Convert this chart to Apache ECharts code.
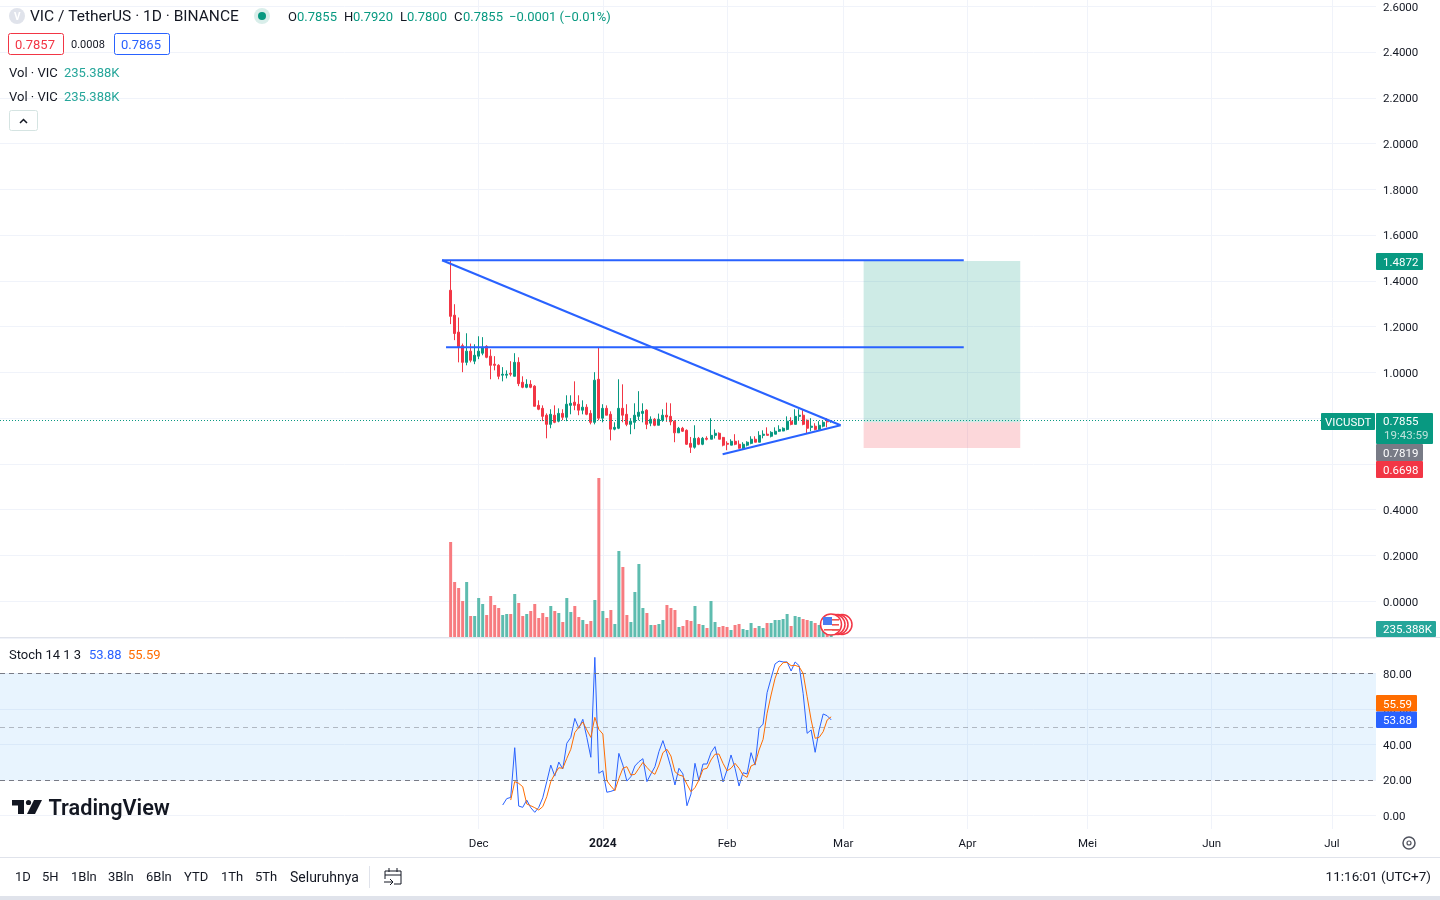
<!DOCTYPE html>
<html>
<head>
<meta charset="UTF-8">
<title>VICUSDT</title>
<script src="https://cdn.jsdelivr.net/npm/echarts@6/dist/echarts.min.js"></script>
<style>
  html, body { margin: 0; padding: 0; background: #fff; overflow: hidden; }
  #chart { width: 1440px; height: 900px; }
</style>
</head>
<body>
<div id="chart"></div>
<script>
// daily candles, 24 Nov 2023 .. 27 Feb 2024
var opens = [1.359,1.250,1.176,1.117,1.044,1.093,1.049,1.071,1.084,1.114,
  1.071,1.036,1.031,.988,.988,.996,.983,1.044,.957,.935,
  .948,.940,.856,.843,.813,.773,.813,.787,.821,.804,
  .856,.870,.861,.835,.848,.821,.782,.970,.800,.843,
  .817,.752,.756,.843,.817,.773,.782,.808,.821,.835,
  .778,.795,.769,.791,.813,.808,.787,.736,.756,.747,
  .690,.673,.712,.686,.712,.708,.725,.734,.716,.690,
  .682,.699,.686,.669,.682,.690,.708,.695,.725,.730,
  .721,.730,.743,.744,.751,.787,.773,.808,.813,.791,
  .760,.765,.751,.765,.787,.7855];
var closes = [1.245,1.170,1.111,1.044,1.093,1.053,1.075,1.093,1.110,1.066,
  1.031,1.031,.983,.992,.992,.992,1.044,.951,.935,.948,
  .935,.852,.839,.808,.773,.817,.782,.821,.804,.861,
  .865,.856,.835,.848,.817,.782,.966,.800,.843,.813,
  .752,.760,.843,.813,.773,.787,.813,.826,.830,.773,
  .795,.769,.795,.813,.805,.784,.736,.756,.743,.686,
  .673,.712,.686,.712,.708,.725,.734,.708,.682,.686,
  .699,.686,.669,.686,.695,.708,.695,.725,.730,.725,
  .738,.743,.751,.756,.787,.773,.808,.813,.773,.756,
  .765,.751,.769,.782,.784,.7855];
var lows = [1.211,1.141,1.044,1.001,1.031,1.044,1.036,1.058,1.075,1.062,
  .970,1.009,.970,.961,.974,.983,.983,.940,.931,.931,
  .931,.852,.835,.787,.712,.756,.778,.782,.791,.787,
  .817,.835,.813,.817,.813,.773,.773,.791,.782,.813,
  .703,.747,.752,.782,.765,.730,.752,.791,.782,.752,
  .765,.765,.769,.784,.784,.769,.695,.736,.740,.683,
  .648,.667,.682,.682,.703,.708,.711,.708,.677,.660,
  .682,.682,.667,.664,.677,.686,.695,.695,.712,.725,
  .716,.730,.740,.743,.747,.769,.773,.791,.769,.733,
  .743,.747,.747,.760,.760,.780];
var highs = [1.4872,1.298,1.240,1.126,1.171,1.126,1.123,1.158,1.154,1.119,
  1.101,1.071,1.036,1.023,1.009,1.049,1.084,1.066,.983,.970,
  .966,.944,.878,.856,.821,.839,.856,.843,.839,.900,
  .900,.961,.900,.878,.861,.835,1.001,1.110,.861,.856,
  .830,.782,.970,.948,.861,.800,.865,.918,.865,.839,
  .808,.801,.820,.839,.868,.865,.791,.762,.762,.751,
  .718,.769,.718,.718,.721,.800,.751,.738,.718,.699,
  .708,.730,.703,.695,.699,.721,.721,.743,.747,.760,
  .743,.760,.769,.760,.808,.804,.839,.839,.835,.794,
  .800,.778,.787,.787,.800,.792];
// volume in thousands
var volumes = [7125,4125,3675,2700,4125,1575,1575,2925,2475,1650,
  3075,2400,2175,1650,1725,1725,3225,2550,1575,1725,
  1950,2475,1425,1800,1500,2325,1950,1800,1125,2925,
  1875,2325,1500,1275,975,1200,2775,11925,1950,1425,
  2025,975,6450,5250,1650,1125,3375,5475,2175,1800,
  900,900,975,1275,2400,2175,2025,750,825,1275,
  1200,2325,975,900,675,2700,1125,750,825,750,
  525,900,975,600,525,1050,675,825,675,1050,
  1050,1275,1275,1350,1725,825,1575,1500,1350,1275,
  1200,1050,900,525,300,235.388];
// stochastic, starts at candle 14 (%K) and candle 16 (%D)
var stochK = [5.9,9.5,10.2,38.2,5.3,4.6,8.7,4.4,1.8,4.6,
  10.0,19.1,28.4,22.2,30.1,26.2,40.7,44.0,54.7,49.1,
  54.2,44.0,32.8,89.1,23.8,25.2,13.1,13.6,14.4,35.0,
  28.4,19.4,21.9,27.9,30.3,32.0,19.1,23.4,27.5,36.0,
  42.2,35.0,27.1,17.2,26.6,23.4,5.5,12.1,29.4,19.6,
  29.0,29.0,35.4,38.8,29.4,18.9,25.6,34.1,26.6,16.6,
  24.1,23.4,35.4,28.4,49.1,51.5,69.2,77.3,85.4,87.0,
  86.5,86.5,81.4,86.5,84.4,68.8,46.3,48.2,35.6,48.2,
  57.2,56.2,53.88];
var stochD = [8.7,19.1,18.1,16.2,6.5,5.5,4.4,3.1,5.0,10.6,
  19.1,23.4,26.9,26.6,32.2,37.3,46.7,49.7,52.7,48.2,
  44.0,55.3,48.5,45.9,19.6,16.6,14.0,20.9,26.6,27.5,
  22.8,23.2,26.6,29.9,27.1,24.7,23.2,28.4,35.4,37.3,
  33.5,24.7,22.8,22.2,17.6,13.4,15.7,20.0,26.0,26.6,
  31.3,34.5,34.6,29.4,25.2,26.6,29.4,26.6,22.8,21.5,
  27.9,29.0,36.9,42.9,57.6,67.9,77.3,83.5,86.1,86.3,
  84.4,84.6,83.8,80.1,67.0,53.8,43.5,44.0,47.2,53.8,
  55.59];
// axis: one category per day, first visible day 4 Aug 2023
var monthIndex = [119,150,181,210,241,271,302,332];
var monthLabels = ['Dec','2024','Feb','Mar','Apr','Mei','Jun','Jul'];
var dayCount = 344;
var firstCandle = 112;
var lastPrice = 0.7855, positionEntry = 0.7819, positionTarget = 1.4872, positionStop = 0.6698;
// drawings, [day index, price]
var topLine = [[109.85,1.490],[240.1,1.490]];
var fallLine = [[109.85,1.490],[209.35,0.769]];
var midLine = [[110.85,1.110],[240.1,1.110]];
var riseLine = [[179.9,0.642],[209.35,0.769]];
var positionBox = [215.1,254.2];

var GREEN = '#089981', RED = '#f23645', BLUE = '#2962ff', ORANGE = '#ff6d00', INK = '#131722', GRID = '#f0f3fa';
var FONT = 'Roboto, "Liberation Sans", sans-serif';
var PANE = { left: -1.5, width: 1379.44 };

var days = [];
for (var d = 0; d < dayCount; d++) days.push(new Date(Date.UTC(2023, 7, 4 + d)).toISOString().slice(0, 10));

function pad(n, arr) {
  var out = [];
  for (var i = 0; i < n; i++) out.push('-');
  return out.concat(arr);
}
var candles = pad(firstCandle, opens.map(function (o, i) { return [o, closes[i], lows[i], highs[i]]; }));
var volBars = pad(firstCandle, volumes.map(function (v, i) {
  return { value: v, itemStyle: { color: closes[i] >= opens[i] ? '#5ebcaf' : '#f77c80' } };
}));

function isMonth(i) { return monthIndex.indexOf(i) >= 0; }
function timeAxis(grid, extra) {
  return Object.assign({
    type: 'category', gridIndex: grid, data: days, boundaryGap: true,
    axisLine: { show: false }, axisTick: { show: false }, axisLabel: { show: false },
    splitLine: { show: false }
  }, extra || {});
}
var monthLines = { show: true, alignWithLabel: true, interval: function (i) { return isMonth(i); }, lineStyle: { color: GRID, width: 1 } };

function drawing(points, name) {
  return { name: name, type: 'line', xAxisIndex: 2, yAxisIndex: 1, data: points, symbol: 'none', silent: true,
    lineStyle: { color: BLUE, width: 2 }, z: 6 };
}

// chart furniture
var g = [];
function txt(x, y, text, color, size, extra) {
  g.push({ type: 'text', x: x, y: y + 1.5, z: 100, silent: true,
    style: Object.assign({ text: text, fill: color, font: (size || 12) + 'px ' + FONT, textVerticalAlign: 'middle' }, extra || {}) });
}
function box(x, y, w, h, fill, stroke, r) {
  g.push({ type: 'rect', z: 99, silent: true, shape: { x: x, y: y, width: w, height: h, r: r || 0 },
    style: { fill: fill, stroke: stroke || null, lineWidth: 1 } });
}
function tag(y, h, w, fill, text) {
  box(1376, y, w, h, fill, null, 1);
  txt(1383, y + h / 2, text, '#fff', 11.5);
}
function rich(x, y, parts) {
  parts.forEach(function (p) { txt(x, y, p[0], p[1], p[2]); x += p[3]; });
}

// keeps the panes from running under the price scale
box(1376, 0, 5, 857, '#fff');

// legend
g.push({ type: 'circle', z: 99, shape: { cx: 17, cy: 16, r: 8 }, style: { fill: '#e0e3eb' } });
txt(14, 15.5, 'V', '#fff', 10, { font: 'bold 10px ' + FONT });
txt(30, 16, 'VIC / TetherUS · 1D · BINANCE', INK, 15.5);
g.push({ type: 'circle', z: 99, shape: { cx: 262, cy: 16, r: 8 }, style: { fill: '#d9eeea' } });
g.push({ type: 'circle', z: 100, shape: { cx: 262, cy: 16, r: 4 }, style: { fill: GREEN } });
rich(288, 16, [['O', INK, 13, 9], ['0.7855', GREEN, 13, 47], ['H', INK, 13, 9], ['0.7920', GREEN, 13, 47], ['L', INK, 13, 7],
  ['0.7800', GREEN, 13, 47], ['C', INK, 13, 9], ['0.7855', GREEN, 13, 46], ['−0.0001 (−0.01%)', GREEN, 13, 0]]);
box(8.5, 33.5, 55, 21, '#fff', RED, 2);
txt(15, 44, '0.7857', RED, 13);
txt(71, 44, '0.0008', INK, 11);
box(114.5, 33.5, 55, 21, '#fff', BLUE, 2);
txt(121, 44, '0.7865', BLUE, 13);
txt(9, 72, 'Vol · VIC', INK, 13);
txt(64, 72, '235.388K', '#26a69a', 13);
txt(9, 96, 'Vol · VIC', INK, 13);
txt(64, 96, '235.388K', '#26a69a', 13);
box(9.5, 110.5, 28, 20, '#fff', '#d5e4e2', 2);
g.push({ type: 'polyline', z: 100, shape: { points: [[20, 123], [23.5, 119.5], [27, 123]] }, style: { stroke: INK, lineWidth: 1.5, fill: null } });
txt(9, 654, 'Stoch 14 1 3', INK, 13);
txt(89, 654, '53.88', BLUE, 13);
txt(128, 654, '55.59', ORANGE, 13);

// event flags sitting on the time axis
[842, 838, 835].forEach(function (cx) {
  g.push({ type: 'circle', z: 99, shape: { cx: cx, cy: 624.5, r: 10 }, style: { fill: '#fff', stroke: RED, lineWidth: 1.5 } });
});
g.push({ type: 'circle', z: 99, shape: { cx: 831, cy: 624.5, r: 10.5 }, style: { fill: '#fff', stroke: RED, lineWidth: 1.5 } });
box(823, 617, 9, 8, '#4a7bf0');
[619, 624, 629].forEach(function (y) { box(832, y, 7, 1.6, '#ef5350'); });
box(824, 629, 14, 1.6, '#ef5350');

// price tags
tag(253, 17, 47, GREEN, '1.4872');
box(1321, 413, 54, 17, GREEN, null, 1);
txt(1325, 421.5, 'VICUSDT', '#fff', 11.5);
box(1376, 413, 57, 31, GREEN, null, 1);
txt(1383, 421, '0.7855', '#fff', 11.5);
txt(1384, 435, '19:43:59', '#bfe3dc', 11.5);
tag(444, 17, 47, '#787b86', '0.7819');
tag(461, 17, 47, RED, '0.6698');
tag(621, 16, 60, '#26a69a', '235.388K');
tag(695, 16.5, 41, ORANGE, '55.59');
tag(711.5, 16.5, 41, BLUE, '53.88');

// separators and bottom toolbar
box(0, 637, 1440, 1, '#e0e3eb');
box(0, 857, 1440, 1, '#e0e3eb');
box(0, 896, 1440, 4, '#e0e3eb');
[['1D', 15], ['5H', 42], ['1Bln', 71], ['3Bln', 108], ['6Bln', 146], ['YTD', 184], ['1Th', 221], ['5Th', 255], ['Seluruhnya', 290]].forEach(function (b) {
  txt(b[1], 876.5, b[0], INK, b[0] === 'Seluruhnya' ? 14 : 13);
});
box(369, 866, 1, 22, '#e0e3eb');
var calendar = [[[385, 879], [385, 871], [401, 871], [401, 884], [394, 884]], [[385, 875], [401, 875]], [[389, 868], [389, 872]], [[397, 868], [397, 872]],
  [[384, 882], [393, 882]], [[390, 879], [393, 882], [390, 885]]];
calendar.forEach(function (pts) {
  g.push({ type: 'polyline', z: 100, shape: { points: pts }, style: { fill: null, stroke: INK, lineWidth: 1 } });
});
txt(1431, 876.5, '11:16:01 (UTC+7)', INK, 13.5, { textAlign: 'right' });
g.push({ type: 'circle', z: 100, shape: { cx: 1409, cy: 843, r: 6 }, style: { fill: null, stroke: '#50535e', lineWidth: 1.5 } });
g.push({ type: 'circle', z: 100, shape: { cx: 1409, cy: 843, r: 2 }, style: { fill: null, stroke: '#50535e', lineWidth: 1.2 } });

// logo
g.push({ type: 'polygon', z: 100, shape: { points: [[12, 800], [24, 800], [24, 814], [18, 814], [18, 805.5], [12, 805.5]] }, style: { fill: INK } });
g.push({ type: 'circle', z: 100, shape: { cx: 28.5, cy: 802.5, r: 2.6 }, style: { fill: INK } });
g.push({ type: 'polygon', z: 100, shape: { points: [[34, 800], [42, 800], [35, 814], [27, 814]] }, style: { fill: INK } });
txt(48.5, 808.5, 'TradingView', INK, 20, { font: '600 21.7px ' + FONT });

// scale labels sit a little lower than the library's centring
var scaleRich = { t: { fontSize: 11.5, color: INK, fontFamily: FONT, padding: [3, 0, 0, 0] } };

var chart = echarts.init(document.getElementById('chart'), null, { renderer: 'canvas' });
chart.setOption({
  animation: false,
  backgroundColor: '#fff',
  textStyle: { fontFamily: FONT },
  grid: [
    Object.assign({ top: 0, height: 637 }, PANE),
    Object.assign({ top: 6.26, height: 595 }, PANE),
    Object.assign({ top: 638, height: 177.5 }, PANE),
    Object.assign({ top: 638, height: 191 }, PANE)
  ],
  xAxis: [
    timeAxis(0, { splitLine: monthLines }),
    timeAxis(1),
    { type: 'value', gridIndex: 1, min: -0.5, max: dayCount - 0.5, show: false },
    timeAxis(2),
    timeAxis(3, {
      splitLine: monthLines,
      axisLabel: {
        show: true, margin: 9, fontFamily: FONT, fontSize: 11.5, color: INK, hideOverlap: false,
        interval: function (i) { return isMonth(i); },
        formatter: function (v, i) {
          var label = monthLabels[monthIndex.indexOf(i)];
          return label === '2024' ? '{y|2024}' : label;
        },
        rich: { y: { fontWeight: 'bold', fontSize: 12, fontFamily: FONT, color: INK } }
      }
    })
  ],
  yAxis: [
    { type: 'value', gridIndex: 0, min: 0, max: 47775, show: false, splitLine: { show: false } },
    { type: 'value', gridIndex: 1, position: 'right', offset: -2, min: 0, max: 2.6, interval: 0.2,
      axisLine: { show: false }, axisTick: { show: false },
      axisLabel: { margin: 7, rich: scaleRich,
        formatter: function (v) { return v === 0.6 || v === 0.8 ? '' : '{t|' + v.toFixed(4) + '}'; } },
      splitLine: { lineStyle: { color: GRID, width: 1 } } },
    { type: 'value', gridIndex: 2, position: 'right', offset: -2, min: 0, max: 100, interval: 20,
      axisLine: { show: false }, axisTick: { show: false },
      axisLabel: { margin: 7, rich: scaleRich,
        formatter: function (v) { return v === 100 ? '' : '{t|' + v.toFixed(2) + '}'; } },
      splitLine: { lineStyle: { color: GRID, width: 1 } } },
    { type: 'value', gridIndex: 3, show: false, splitLine: { show: false } }
  ],
  series: [
    { name: 'Vol', type: 'bar', xAxisIndex: 0, yAxisIndex: 0, data: volBars, barWidth: 3, silent: true, z: 2 },
    { name: 'VICUSDT', type: 'candlestick', xAxisIndex: 1, yAxisIndex: 1, data: candles, barWidth: 2.5, silent: true, z: 4,
      itemStyle: { color: GREEN, color0: RED, borderColor: GREEN, borderColor0: RED, borderColorDoji: GREEN, borderWidth: 1 },
      markLine: { silent: true, symbol: 'none', animation: false, label: { show: false },
        lineStyle: { color: GREEN, type: [1, 2], width: 1 }, data: [{ yAxis: lastPrice }] } },
    { name: 'Position', type: 'line', xAxisIndex: 2, yAxisIndex: 1, data: [], silent: true, z: 1,
      markArea: { silent: true, animation: false, data: [
        [{ coord: [positionBox[0], positionTarget], itemStyle: { color: 'rgba(8,153,129,0.2)' } }, { coord: [positionBox[1], positionEntry] }],
        [{ coord: [positionBox[0], positionEntry], itemStyle: { color: 'rgba(242,54,69,0.2)' } }, { coord: [positionBox[1], positionStop] }]
      ] } },
    drawing(topLine, 'Top'),
    drawing(fallLine, 'Fall'),
    drawing(midLine, 'Mid'),
    drawing(riseLine, 'Rise'),
    { name: '%K', type: 'line', xAxisIndex: 3, yAxisIndex: 2, symbol: 'none', silent: true, z: 4,
      data: pad(firstCandle + 13, stochK), connectNulls: false, lineStyle: { color: BLUE, width: 1 },
      markArea: { silent: true, animation: false, itemStyle: { color: 'rgba(33,150,243,0.1)' }, data: [[{ yAxis: 80 }, { yAxis: 20 }]] },
      markLine: { silent: true, symbol: 'none', animation: false, label: { show: false }, data: [
        { yAxis: 80, lineStyle: { color: '#787b86', type: [5, 4], width: 1 } },
        { yAxis: 50, lineStyle: { color: 'rgba(120,123,134,0.5)', type: [5, 4], width: 1 } },
        { yAxis: 20, lineStyle: { color: '#787b86', type: [5, 4], width: 1 } }
      ] } },
    { name: '%D', type: 'line', xAxisIndex: 3, yAxisIndex: 2, symbol: 'none', silent: true, z: 5,
      data: pad(firstCandle + 15, stochD), lineStyle: { color: ORANGE, width: 1 } }
  ],
  graphic: { elements: g }
});
</script>
</body>
</html>
